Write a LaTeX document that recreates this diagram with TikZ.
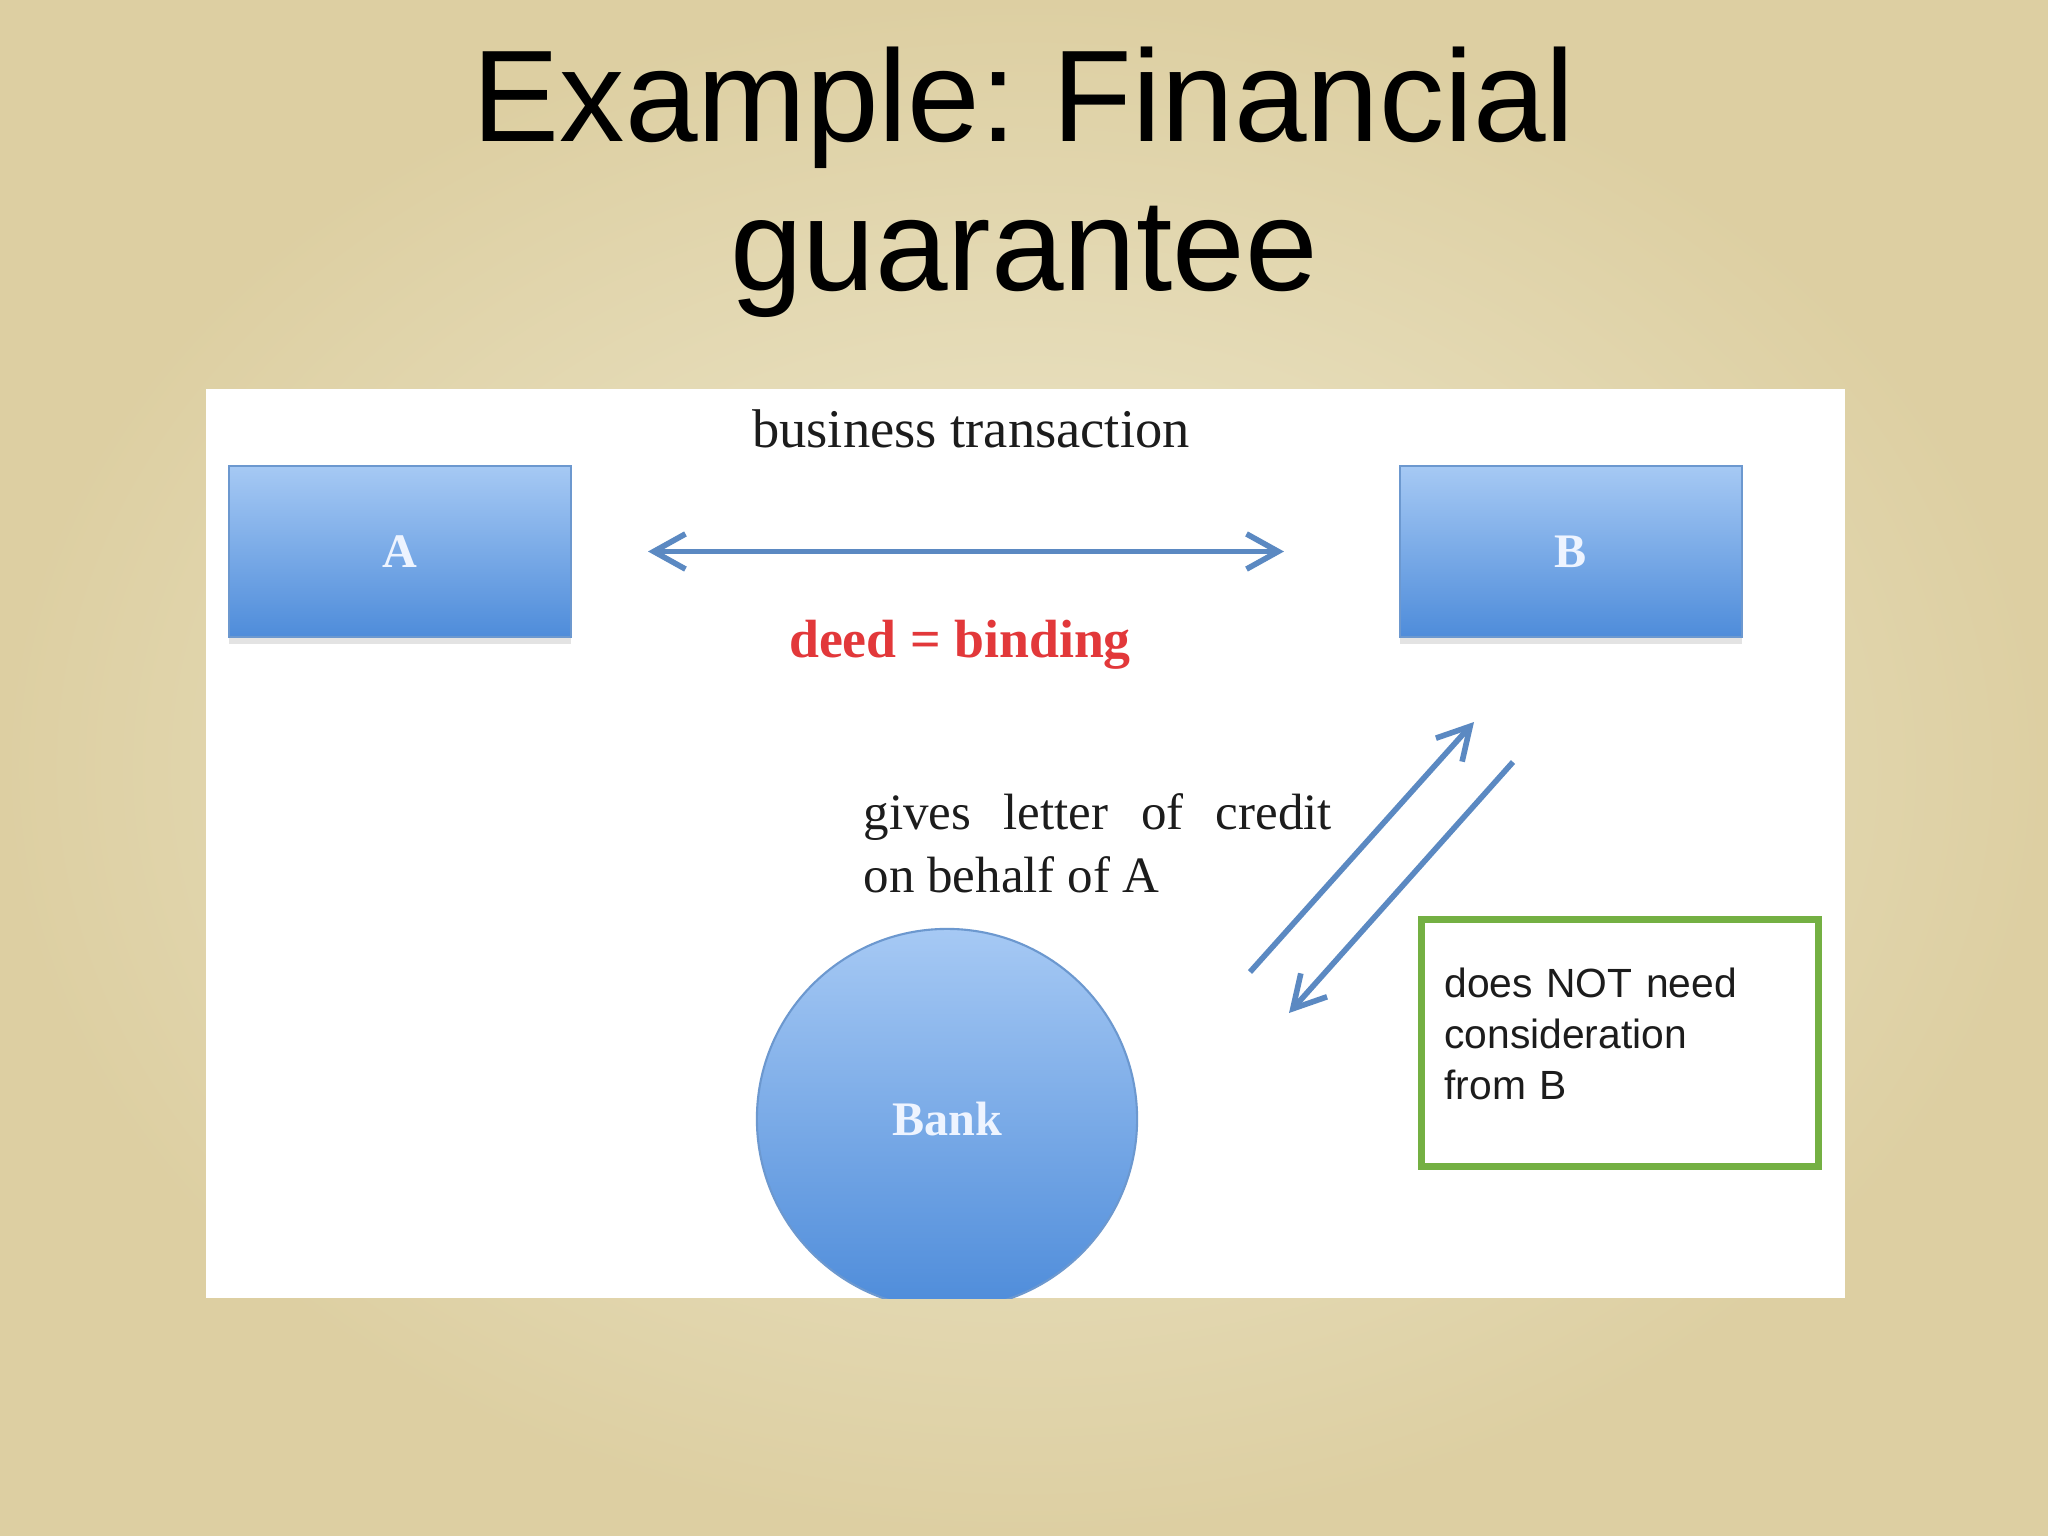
\documentclass[tikz,border=0pt]{standalone}
\usepackage{fontspec}
\setmainfont{Liberation Serif}
\newfontfamily\titlefont{Liberation Sans}
\newfontfamily\notefont{Liberation Sans}
\usetikzlibrary{arrows.meta,shadows}
\frenchspacing
\definecolor{parchC}{HTML}{EFEAD0}
\definecolor{parchE}{HTML}{DDCFA2}
\definecolor{boxTop}{HTML}{A6C9F4}
\definecolor{boxBot}{HTML}{4E8CDA}
\definecolor{boxLine}{HTML}{6C98CF}
\definecolor{arrowBlue}{HTML}{5B89C2}
\definecolor{deedRed}{HTML}{E2383A}
\definecolor{noteGreen}{HTML}{74B043}
\definecolor{labelWhite}{HTML}{EEF4FF}
\definecolor{inkText}{HTML}{1C1C1C}
\begin{document}
\begin{tikzpicture}[x=0.01cm,y=-0.01cm,
  party/.style={rectangle, minimum width=3.42cm, minimum height=1.71cm, inner sep=0pt,
    top color=boxTop, bottom color=boxBot, draw=boxLine, line width=0.5pt,
    drop shadow={shadow xshift=0pt, shadow yshift=-2pt, opacity=0.18, fill=black!60},
    font=\bfseries\fontsize{13.7pt}{16pt}\selectfont, text=labelWhite},
  bankc/.style={circle, minimum size=3.8cm, inner sep=0pt,
    top color=boxTop, bottom color=boxBot, draw=boxLine, line width=0.6pt,
    font=\bfseries\fontsize{13.7pt}{16pt}\selectfont, text=labelWhite},
  flow/.style={draw=arrowBlue, line width=1.6pt},
  note/.style={draw=noteGreen, line width=2pt, fill=white,
    minimum width=3.97cm, minimum height=2.47cm, inner sep=0pt},
  notetext/.style={text width=3.47cm, inner sep=0pt, align=left,
    font=\notefont\fontsize{11.6pt}{14.5pt}\selectfont, text=inkText},
  serifText/.style={font=\fontsize{14.5pt}{17pt}\selectfont, text=inkText, inner sep=0pt},
  titleText/.style={anchor=base, inner sep=0pt, font=\titlefont\fontsize{37.1pt}{42pt}\selectfont}
]
\useasboundingbox (0,0) rectangle (2048,1536);
\shade[inner color=parchC, outer color=parchE] (0,0) rectangle (2048,1536);

% title
\node[titleText] (t1) at (1024,141) {Example: Financial};
\node[titleText] (t2) at (1024,290) {guarantee};

% white panel
\node[fill=white, minimum width=16.38cm, minimum height=9.09cm, inner sep=0pt, anchor=north west] (panel) at (205,388) {};

% parties
\node[party] (A) at (400,551.5) {A};
\node[party] (B) at (1571,551.5) {B};

\node[anchor=base, inner sep=0pt, font=\fontsize{15.5pt}{18pt}\selectfont, text=inkText] (bt) at (971,447) {business transaction};
\node[anchor=base, inner sep=0pt, font=\bfseries\fontsize{15.3pt}{18pt}\selectfont, text=deedRed] (deed) at (960,657) {deed = binding};

\draw[flow, {Straight Barb[length=9pt,width=10pt]}-{Straight Barb[length=9pt,width=10pt]}]
  ([xshift=0.76cm]A.east) -- ([xshift=-1.15cm]B.west);

% bank
\begin{scope}
  \clip (panel.north west) rectangle (panel.south east);
  \node[bankc] (bank) at (947,1119) {Bank};
\end{scope}

\node[serifText, anchor=base west] (give1) at (863,829) {\makebox[4.68cm][s]{gives letter of credit}};
\node[serifText, anchor=base west] (give2) at (863,892) {on behalf of A};

% diagonal arrows
\coordinate (u1) at (1250,972);
\coordinate (u2) at (1474,722);
\coordinate (d1) at (1513,762);
\coordinate (d2) at (1289,1013);
\draw[flow, -{Straight Barb[length=9pt,width=10pt]}] (u1) -- (u2);
\draw[flow, -{Straight Barb[length=9pt,width=10pt]}] (d1) -- (d2);

% note
\node[note] (note) at (1620,1043) {};
\node[notetext] (notetxt) at ([xshift=-0.02cm,yshift=2.6pt]note.center) {does NOT need\\consideration\\from B};
\end{tikzpicture}
\end{document}
